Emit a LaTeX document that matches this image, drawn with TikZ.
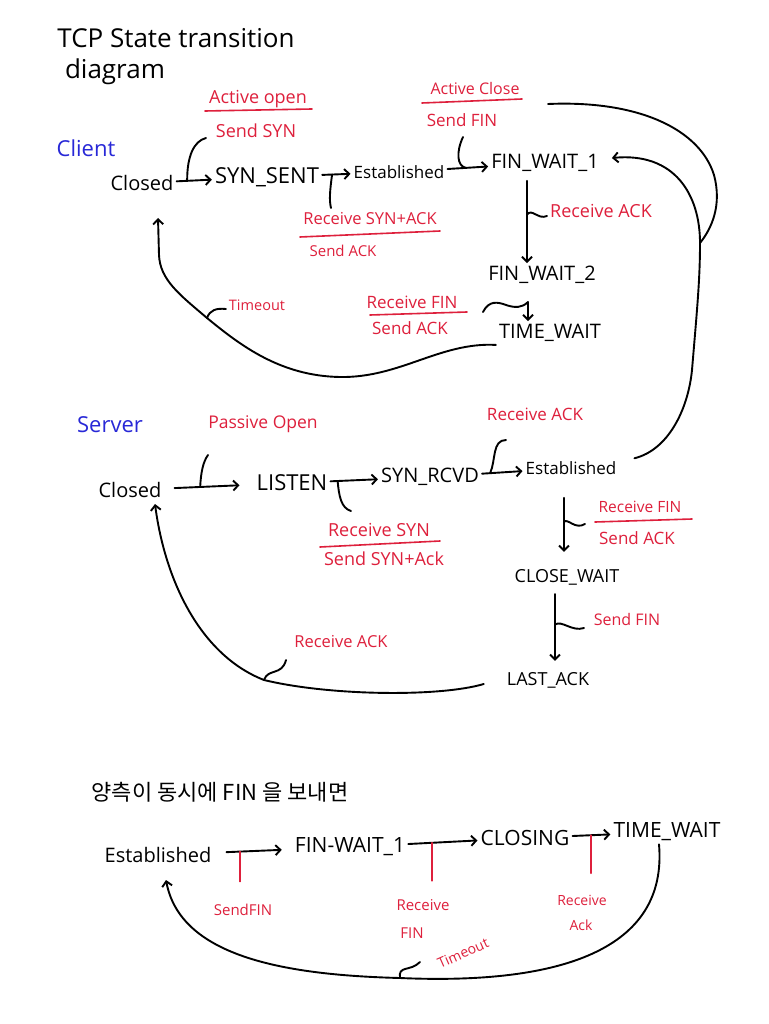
\documentclass[tikz,border=0pt]{standalone}
\usepackage{fontspec}
\setmainfont{Open Sans}
\newfontfamily\krfont{Noto Sans CJK KR}
\usetikzlibrary{arrows.meta}
\definecolor{inkred}{RGB}{222,32,60}
\definecolor{inkblue}{RGB}{40,40,215}
\newcommand{\fsz}[1]{\fontsize{#1}{#1}\selectfont}
\begin{document}
\begin{tikzpicture}[x=1pt,y=-1pt,
 state/.style={inner sep=3pt,font=\fsz{20}},
 lab/.style={text=inkred,inner sep=1pt,font=\fsz{16}},
 side/.style={text=inkblue,inner sep=1pt,font=\fsz{22}},
 ttl/.style={inner sep=1pt,font=\fsz{26}},
 arr/.style={line width=1.9pt,-{Straight Barb[length=5pt,width=10pt]}},
 ln/.style={line width=1.9pt},
 rln/.style={draw=inkred,line width=1.6pt},
 line cap=round]
\fill[white] (0,0) rectangle (768,1024);
\useasboundingbox (0,0) rectangle (768,1024);

% title
\node[ttl] (t1) at (176,38) {TCP State transition};
\node[ttl] (t2) at (115,72) {diagram};

% ---------------- client
\node[side] (cl) at (86,148) {Client};
\node[state] (c1) at (142,183) {Closed};
\node[state,font=\fsz{22}] (c2) at (267,177) {SYN\_SENT};
\node[state,font=\fsz{17}] (c3) at (399,172) {Established};
\node[state] (c4) at (545,163) {FIN\_WAIT\_1};
\node[state] (c5) at (542,275) {FIN\_WAIT\_2};
\node[state] (c6) at (550,333) {TIME\_WAIT};

\draw[arr] (c1) -- coordinate[pos=.3] (m1) (c2);
\coordinate (h1e) at (206,138);
\draw[ln] (m1) .. controls (187,156) and (194,141) .. (h1e);
\node[lab,font=\fsz{18}] (ao1) at (258,99) {Active open};
\draw[rln] (205,111) -- (312,109);
\node[lab,font=\fsz{18}] (ao2) at (256,131) {Send SYN};

\draw[arr] (c2) -- coordinate[pos=.35] (m2) (c3);
\coordinate (h2e) at (331,208);
\draw[ln] (m2) .. controls (330,190) and (329,200) .. (h2e);
\node[lab,font=\fsz{16.5}] (rs1) at (370,219) {Receive SYN+ACK};
\draw[rln] (300,237) -- (440,231);
\node[lab,font=\fsz{15}] (rs2) at (343,251) {Send ACK};

\draw[arr] (c3) -- coordinate[pos=.45] (m3) (c4);
\coordinate (h3e) at (463,137);
\draw[ln] (m3) .. controls (457,166) and (456,152) .. (h3e);
\node[lab] (ac1) at (475,89) {Active Close};
\draw[rln] (422,103) -- (522,99);
\node[lab,font=\fsz{17}] (ac2) at (462,120) {Send FIN};

\draw[arr,shorten <=6pt] ([xshift=-18pt]c4.south) -- coordinate[pos=.45] (m4) ([xshift=-18pt]c4.south |- c5.north);
\draw[ln] (m4) .. controls (532,208) and (538,220) .. (547,216);
\node[lab,font=\fsz{18}] (ra) at (601,211) {Receive ACK};

\coordinate (m5) at ([xshift=-14pt,yshift=-15pt]c5.south);
\draw[arr] (m5) -- (m5 |- c6.north);
\coordinate (t5) at (483,312);
\draw[ln] (t5) .. controls (489,300) and (498,302) .. (506,305) .. controls (515,308) and (522,308) .. (m5);
\node[lab,font=\fsz{17}] (rf1) at (412,302) {Receive FIN};
\draw[rln] (370,315) -- (467,312);
\node[lab,font=\fsz{17}] (rf2) at (410,328) {Send ACK};

\coordinate (c1in) at (158,218);
\coordinate (tq) at (207,318);
\draw[arr] (c6.south west) .. controls (440,342) and (400,378) .. (340,377) .. controls (280,376) and (240,345) .. (tq) .. controls (180,295) and (160,280) .. (159,255) -- (c1in);
\draw[ln] (tq) .. controls (210,310) and (216,308) .. (226,309);
\node[lab,font=\fsz{14.5}] (to1) at (257,305) {Timeout};

% ---------------- server
\node[side] (sv) at (110,425) {Server};
\node[state] (s1) at (130,490) {Closed};
\node[state,font=\fsz{22}] (s2) at (292,483) {LISTEN};
\node[state] (s3) at (430,477) {SYN\_RCVD};
\node[state,font=\fsz{17}] (s4) at (571,468) {Established};
\node[state,font=\fsz{18}] (s5) at (567,577) {CLOSE\_WAIT};
\node[state,font=\fsz{18}] (s6) at (548,680) {LAST\_ACK};

% long loop from server Established to FIN_WAIT_1
\coordinate (J) at (700,243);
\coordinate (L) at (548,104);
\draw[ln] ([xshift=15pt]s4.north east) .. controls (668,450) and (688,410) .. (692,370) .. controls (697,310) and (700,280) .. (J);
\draw[arr] (J) .. controls (700,195) and (675,152) .. ([xshift=10pt,yshift=5pt]c4.east);
\draw[ln] (J) .. controls (712,228) and (722,205) .. (714,175) .. controls (700,130) and (640,100) .. (L);

\draw[arr,shorten <=10pt,shorten >=14pt] (s1) -- coordinate[pos=.4] (n1) (s2);
\coordinate (p1) at (208,455);
\draw[ln] (n1) .. controls (201,472) and (203,462) .. (p1);
\node[lab,font=\fsz{17.5}] (po) at (263,424) {Passive Open};

\draw[arr] (s2) -- coordinate[pos=.15] (n2) (s3);
\coordinate (p2) at (351,511);
\draw[ln] (n2) .. controls (339,496) and (341,508) .. (p2);
\node[lab,font=\fsz{18}] (rsy1) at (379,530) {Receive SYN};
\draw[rln] (320,547) -- (440,541);
\node[lab,font=\fsz{18}] (rsy2) at (384,559) {Send SYN+Ack};

\draw[arr] (s3) -- coordinate[pos=.2] (n3) (s4);
\coordinate (p3) at (506,440);
\draw[ln] (n3) .. controls (496,460) and (492,440) .. (p3);
\node[lab,font=\fsz{17}] (rack) at (535,414) {Receive ACK};

\draw[arr,shorten <=20pt,shorten >=14pt] ([xshift=-7pt]s4.south) -- coordinate[pos=.5] (n4) ([xshift=-7pt]s4.south |- s5.north);
\draw[ln] (n4) .. controls (568,518) and (575,530) .. (585,524);
\node[lab,font=\fsz{15.5}] (rfn1) at (640,507) {Receive FIN};
\draw[rln] (595,522) -- (692,519);
\node[lab,font=\fsz{17}] (rfn2) at (637,538) {Send ACK};

\draw[arr,shorten <=6pt,shorten >=8pt] ([xshift=-12pt]s5.south) -- coordinate[pos=.45] (n5) ([xshift=-12pt]s5.south |- s6.north);
\draw[ln] (n5) .. controls (562,620) and (572,632) .. (584,628);
\node[lab,font=\fsz{16}] (sf) at (627,619) {Send FIN};

\coordinate (s1in) at (155,504);
\coordinate (rq) at (264,680);
\draw[arr] ([xshift=-20pt,yshift=-4pt]s6.west) .. controls (440,697) and (330,696) .. (rq) .. controls (200,655) and (165,580) .. (s1in);
\draw[ln] (rq) .. controls (268,668) and (282,676) .. (286,660);
\node[lab,font=\fsz{16.5}] (rack2) at (341,642) {Receive ACK};

% ---------------- simultaneous close
\node[font=\krfont\fsz{22},inner sep=1pt] (kr) at (220,792) {양측이 동시에 FIN 을 보내면};
\node[state] (b1) at (158,855) {Established};
\node[state,font=\fsz{21}] (b2) at (350,847) {FIN-WAIT\_1};
\node[state,font=\fsz{21}] (b3) at (525,838) {CLOSING};
\node[state,font=\fsz{21}] (b4) at (667,832) {TIME\_WAIT};

\draw[arr,shorten <=12pt,shorten >=10pt] (b1) -- coordinate[pos=.33] (q1) (b2);
\draw[rln] (q1) -- ++(0,30);
\draw[arr] (b2) -- coordinate[pos=.34] (q2) (b3);
\draw[rln] (q2) -- ++(0,38);
\draw[arr] (b3) -- coordinate[pos=.49] (q3) (b4);
\draw[rln] (q3) -- ++(0,38);

\node[lab,font=\fsz{15}] (bsf) at (243,910) {SendFIN};
\node[lab,font=\fsz{15}] (brf1) at (423,905) {Receive};
\node[lab,font=\fsz{15}] (brf2) at (412,933) {FIN};
\node[lab,font=\fsz{14},rotate=24] (bto) at (463,953) {Timeout};
\node[lab,font=\fsz{14}] (bra1) at (582,900) {Receive};
\node[lab,font=\fsz{14}] (bra2) at (581,925) {Ack};

\coordinate (b1in) at (166,880);
\coordinate (bq) at (400,978);
\draw[arr] ([xshift=-8pt]b4.south) .. controls (668,950) and (560,985) .. (bq) .. controls (280,975) and (180,955) .. (b1in);
\draw[ln] (bq) .. controls (398,965) and (410,972) .. (420,962);
\end{tikzpicture}
\end{document}
